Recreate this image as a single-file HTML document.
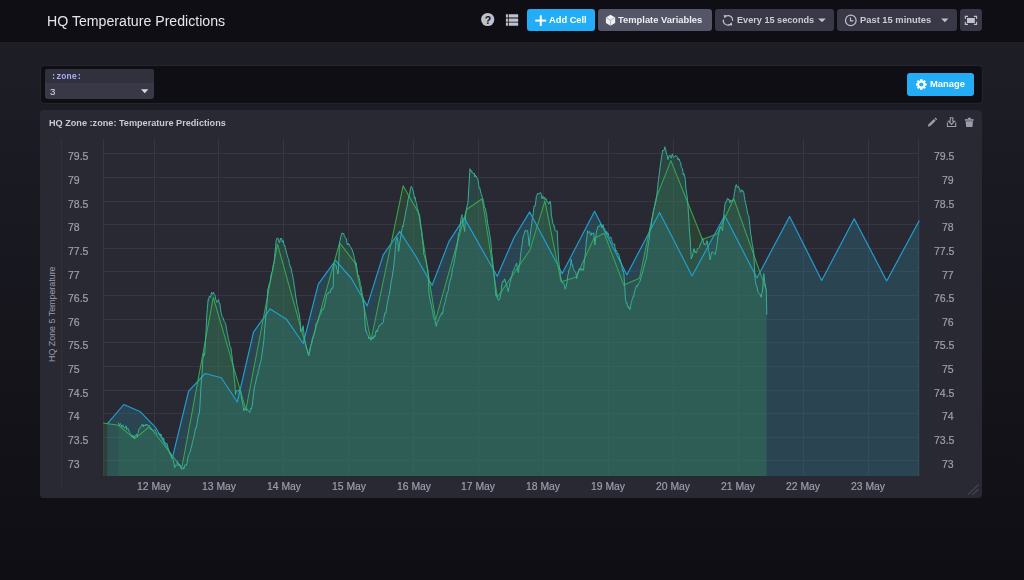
<!DOCTYPE html>
<html><head><meta charset="utf-8">
<style>
*{box-sizing:border-box;margin:0;padding:0}
html,body{width:1024px;height:580px;overflow:hidden}
body{font-family:"Liberation Sans",sans-serif;background:linear-gradient(to bottom,#1f1f27 0%,#0f0e15 100%);position:relative;color:#bec2cc}
.hdr{position:absolute;left:0;top:0;width:1024px;height:42.4px;background:#0f0e15}
.box{position:absolute}
.t{position:absolute;line-height:1;white-space:nowrap;will-change:transform}
.b{font-weight:bold}
.mono{font-family:"Liberation Mono",monospace;font-weight:bold}
.ax{color:#9b9fad;-webkit-text-stroke:0.2px #9b9fad}
.ylabel{position:absolute;left:47.6px;top:362px;transform-origin:0 0;transform:rotate(-90deg);font-size:8.9px;line-height:1;color:#999dab;white-space:nowrap}
svg{position:absolute;left:0;top:0;overflow:visible}
</style></head><body>
<div class="hdr"></div>
<!-- buttons -->
<div class="box" style="left:527px;top:9px;width:68px;height:22px;border-radius:3px;background:#22adf6"></div>
<div class="box" style="left:598px;top:9px;width:113.5px;height:22px;border-radius:3px;background:#545667"></div>
<div class="box" style="left:714.5px;top:9px;width:119.5px;height:22px;border-radius:3px;background:#383846"></div>
<div class="box" style="left:837px;top:9px;width:119.5px;height:22px;border-radius:3px;background:#383846"></div>
<div class="box" style="left:960px;top:9px;width:22px;height:22px;border-radius:3px;background:#383846"></div>
<!-- template var bar -->
<div class="box" style="left:41px;top:66px;width:941px;height:37px;background:#0f0e15;border-radius:4px;box-shadow:0 0 0 1px #24242c"></div>
<div class="box" style="left:45px;top:69.3px;width:109px;height:30px;border-radius:3px;background:#383846;overflow:hidden"><div style="height:13.5px;background:#31313d"></div></div>
<div class="box" style="left:907px;top:73px;width:66.5px;height:23px;border-radius:3px;background:#22adf6"></div>
<!-- panel -->
<div class="box" style="left:40px;top:110px;width:942px;height:388px;background:#292933;border-radius:4px"></div>
<div class="box" style="left:61px;top:139px;width:1px;height:351px;background:#31313b"></div>
<svg class="chart" width="1024" height="580" viewBox="0 0 1024 580">
<g class="grid" stroke="#373743" stroke-width="1"><line x1="103" x2="919" y1="153.5" y2="153.5"/><line x1="103" x2="919" y1="177.5" y2="177.5"/><line x1="103" x2="919" y1="201.5" y2="201.5"/><line x1="103" x2="919" y1="224.5" y2="224.5"/><line x1="103" x2="919" y1="248.5" y2="248.5"/><line x1="103" x2="919" y1="271.5" y2="271.5"/><line x1="103" x2="919" y1="295.5" y2="295.5"/><line x1="103" x2="919" y1="319.5" y2="319.5"/><line x1="103" x2="919" y1="342.5" y2="342.5"/><line x1="103" x2="919" y1="366.5" y2="366.5"/><line x1="103" x2="919" y1="390.5" y2="390.5"/><line x1="103" x2="919" y1="413.5" y2="413.5"/><line x1="103" x2="919" y1="437.5" y2="437.5"/><line x1="103" x2="919" y1="460.5" y2="460.5"/><line y1="139" y2="476" x1="154.5" x2="154.5"/><line y1="139" y2="476" x1="218.5" x2="218.5"/><line y1="139" y2="476" x1="283.5" x2="283.5"/><line y1="139" y2="476" x1="348.5" x2="348.5"/><line y1="139" y2="476" x1="413.5" x2="413.5"/><line y1="139" y2="476" x1="478.5" x2="478.5"/><line y1="139" y2="476" x1="543.5" x2="543.5"/><line y1="139" y2="476" x1="608.5" x2="608.5"/><line y1="139" y2="476" x1="673.5" x2="673.5"/><line y1="139" y2="476" x1="738.5" x2="738.5"/><line y1="139" y2="476" x1="803.5" x2="803.5"/><line y1="139" y2="476" x1="868.5" x2="868.5"/><line y1="139" y2="476" x1="103.5" x2="103.5"/><line y1="139" y2="476" x1="918.5" x2="918.5"/></g>
<path d="M103.3,423.1 L118.4,425.2 L134.6,438.8 L149.5,426.5 L181.8,467.9 L213.3,297.3 L245.9,409.7 L277.5,244.2 L308.3,354.7 L339.6,242.9 L355.1,262.9 L370.9,340.5 L403.1,185.8 L418.6,212.9 L435.6,319.8 L466.6,209.5 L482.2,198.8 L497.4,297.3 L530.0,249.9 L544.9,200.8 L561.1,281.8 L576.4,277.1 L582.4,263.3 L593.8,238.5 L604.2,233.3 L623.8,285.1 L639.5,278.3 L656.3,197.6 L670.9,160.6 L702.5,239.5 L717.5,233.8 L733.8,198.8 L766.3,290.0 L766.3,476 L103.3,476 Z" fill="rgb(71,199,63)" fill-opacity="0.145"/>
<path d="M107.2,423.8 L123.8,404.5 L140.4,411.8 L155.5,427.3 L172.5,457.3 L188.6,391.1 L205.2,373.5 L221.3,377.8 L237.3,402.0 L253.5,332.1 L270.1,308.9 L286.6,319.3 L303.2,343.5 L318.3,284.1 L335.5,260.4 L351.1,278.0 L367.2,305.9 L383.1,255.2 L399.7,231.4 L415.2,255.2 L432.1,285.3 L449.0,241.4 L464.3,218.1 L497.2,276.3 L514.2,237.3 L529.7,211.9 L562.2,273.5 L594.6,211.3 L626.9,274.7 L659.6,212.5 L692.1,275.9 L724.8,215.6 L756.9,278.0 L789.6,216.5 L821.7,280.5 L854.2,218.7 L886.7,280.9 L919.3,220.5 L919.3,476 L107.2,476 Z" fill="rgb(48,128,149)" fill-opacity="0.313"/>
<path d="M118.4,422.6 L118.9,424.1 L119.4,425.6 L119.9,424.6 L120.4,423.5 L120.9,424.7 L121.4,425.9 L121.9,427.2 L122.4,425.3 L122.9,424.8 L123.5,426.6 L124.0,426.9 L124.6,428.1 L125.1,427.8 L125.7,426.5 L126.2,425.8 L126.7,429.7 L127.3,428.7 L127.8,428.5 L128.3,428.7 L128.9,430.8 L129.4,432.3 L129.9,432.6 L130.4,433.4 L131.0,434.5 L131.5,435.7 L132.0,437.1 L132.5,437.0 L133.0,435.1 L133.6,437.7 L134.1,436.6 L134.6,438.1 L135.1,435.8 L135.7,436.0 L136.2,434.5 L136.7,434.3 L137.3,437.0 L137.8,433.5 L138.3,432.6 L138.9,429.2 L139.4,428.4 L139.9,428.5 L140.5,427.0 L141.0,426.3 L141.5,426.0 L142.0,424.6 L142.5,425.7 L143.0,424.5 L143.5,426.9 L144.0,425.0 L144.5,425.6 L145.0,424.9 L145.5,425.7 L146.0,424.1 L146.5,425.2 L147.0,424.3 L147.5,425.4 L148.0,425.7 L148.5,425.7 L149.1,425.0 L149.6,426.9 L150.1,427.6 L150.6,429.5 L151.1,428.3 L151.7,429.3 L152.2,430.0 L152.7,430.4 L153.2,430.5 L153.7,430.7 L154.3,430.0 L154.8,429.5 L155.3,430.2 L155.8,431.7 L156.3,433.4 L156.9,433.5 L157.4,433.8 L157.9,433.8 L158.4,433.9 L158.9,433.5 L159.5,434.2 L160.0,435.7 L160.5,434.1 L161.0,433.9 L161.6,437.3 L162.1,437.1 L162.6,438.5 L163.2,439.4 L163.7,438.1 L164.2,442.1 L164.8,443.3 L165.3,442.6 L165.8,443.5 L166.4,443.7 L166.9,443.2 L167.4,445.0 L167.9,447.1 L168.5,449.6 L169.0,450.9 L169.5,451.6 L170.0,454.2 L170.5,453.7 L171.1,456.1 L171.6,458.3 L172.1,458.4 L172.6,457.9 L173.1,459.7 L173.7,462.6 L174.2,464.9 L174.7,467.9 L175.3,465.2 L175.8,465.1 L176.4,465.5 L176.9,464.6 L177.5,461.6 L178.0,463.8 L178.6,465.9 L179.1,466.0 L179.7,464.4 L180.2,464.8 L180.8,466.0 L181.3,469.4 L181.9,468.9 L182.4,468.6 L183.0,469.3 L183.5,467.4 L184.1,468.5 L184.6,465.7 L185.2,464.6 L185.7,465.2 L186.3,465.8 L186.9,463.6 L187.4,461.3 L188.0,457.0 L188.5,455.6 L189.1,454.1 L189.6,452.5 L190.2,452.0 L190.7,449.2 L191.2,448.1 L191.8,445.5 L192.3,442.7 L192.8,440.8 L193.3,439.0 L193.8,437.5 L194.4,434.0 L194.9,431.7 L195.4,428.2 L196.0,428.6 L196.5,427.0 L197.1,423.1 L197.6,419.8 L198.2,416.2 L198.7,415.0 L199.3,413.0 L199.8,407.8 L200.3,398.9 L200.8,389.8 L201.4,379.8 L201.9,375.7 L202.4,368.0 L202.9,358.4 L203.4,357.1 L203.9,353.0 L204.4,355.4 L204.9,352.0 L205.5,340.3 L206.2,328.4 L206.8,315.1 L207.4,308.6 L208.1,299.8 L208.6,300.4 L209.1,296.8 L209.7,296.1 L210.2,297.3 L210.7,297.4 L211.2,294.2 L211.7,292.4 L212.3,294.1 L212.8,294.3 L213.3,292.1 L213.8,293.1 L214.3,294.2 L214.9,294.9 L215.4,296.6 L215.9,300.1 L216.4,300.5 L216.9,302.4 L217.5,300.8 L218.0,300.4 L218.5,299.5 L219.0,302.1 L219.5,303.0 L220.0,304.2 L220.5,308.7 L221.0,312.4 L221.6,314.2 L222.1,316.6 L222.7,317.4 L223.2,317.8 L223.8,320.1 L224.3,321.5 L224.9,322.4 L225.5,323.7 L226.0,325.8 L226.6,329.6 L227.1,332.5 L227.7,334.3 L228.2,338.5 L228.8,340.0 L229.3,342.8 L229.8,346.1 L230.4,346.8 L230.9,347.4 L231.4,352.3 L231.9,355.6 L232.5,361.5 L233.1,365.1 L233.6,369.7 L234.2,378.3 L234.9,383.7 L235.5,394.4 L236.0,392.5 L236.5,391.0 L237.1,390.2 L237.6,390.6 L238.1,390.2 L238.7,391.4 L239.4,389.4 L240.0,390.5 L240.6,391.2 L241.1,395.6 L241.7,399.6 L242.2,401.2 L242.8,404.5 L243.3,407.4 L243.9,410.9 L244.4,409.0 L245.0,408.2 L245.6,407.8 L246.1,410.3 L246.6,410.3 L247.2,408.9 L247.7,409.7 L248.2,410.5 L248.8,411.4 L249.3,411.9 L249.8,412.5 L250.3,409.7 L250.8,408.3 L251.3,409.2 L251.8,407.3 L252.3,404.9 L252.8,400.2 L253.3,396.1 L253.8,392.3 L254.3,387.1 L254.8,385.9 L255.3,384.2 L255.8,381.4 L256.3,379.1 L256.8,376.9 L257.3,374.8 L257.8,375.0 L258.3,370.3 L258.8,369.7 L259.3,367.2 L259.8,364.6 L260.4,362.8 L260.9,361.6 L261.4,358.4 L262.0,353.6 L262.7,348.6 L263.3,344.6 L263.8,340.6 L264.3,334.4 L264.8,327.9 L265.3,322.2 L265.8,316.9 L266.3,311.3 L266.8,305.7 L267.3,297.6 L267.8,288.7 L268.4,288.4 L268.9,284.8 L269.5,283.8 L270.0,282.2 L270.6,277.8 L271.1,275.0 L271.6,272.6 L272.2,271.9 L272.7,270.3 L273.2,265.1 L273.8,264.0 L274.3,260.2 L274.9,253.4 L275.6,246.6 L276.2,240.3 L276.8,238.4 L277.3,238.4 L277.9,237.9 L278.4,239.5 L278.9,241.6 L279.5,242.8 L280.0,240.2 L280.6,238.0 L281.1,238.8 L281.7,238.7 L282.2,242.1 L282.8,241.9 L283.3,240.5 L283.8,243.7 L284.3,245.7 L284.8,245.3 L285.3,247.6 L285.8,249.8 L286.3,251.9 L286.8,253.9 L287.3,255.2 L287.8,257.4 L288.3,258.4 L288.8,259.6 L289.3,263.7 L289.8,265.0 L290.3,267.1 L290.9,267.0 L291.4,270.0 L291.9,273.5 L292.5,273.8 L293.0,278.0 L293.6,280.7 L294.1,285.0 L294.7,288.2 L295.2,292.2 L295.8,297.0 L296.3,299.4 L296.9,304.7 L297.4,305.5 L297.9,307.4 L298.4,311.7 L299.0,313.0 L299.5,316.0 L300.0,320.3 L300.5,323.9 L300.5,331.3 L301.0,331.5 L301.5,332.2 L302.1,330.8 L302.6,328.0 L303.1,325.7 L303.8,332.2 L304.4,337.8 L304.9,340.3 L305.4,342.6 L305.9,344.7 L306.4,348.1 L306.9,349.0 L307.4,349.3 L307.9,353.3 L308.4,353.7 L308.9,355.8 L309.4,353.3 L310.0,350.3 L310.5,346.6 L311.1,344.3 L311.6,344.2 L312.2,339.3 L312.8,336.9 L313.5,336.1 L314.1,333.9 L314.6,332.0 L315.2,330.2 L315.7,325.2 L316.2,323.4 L316.8,322.6 L317.3,321.4 L317.8,321.5 L318.3,319.9 L318.8,317.8 L319.3,316.7 L319.8,315.3 L320.3,314.6 L320.8,314.2 L321.3,312.2 L321.8,310.2 L322.3,308.8 L322.8,309.7 L323.3,309.6 L323.8,308.5 L324.4,306.0 L325.0,303.5 L325.5,300.2 L326.1,298.3 L326.7,294.2 L327.2,293.9 L327.7,292.9 L328.2,293.7 L328.7,292.2 L329.2,291.8 L329.7,291.9 L330.2,292.6 L330.7,290.1 L331.2,288.7 L331.7,289.7 L332.2,287.6 L332.7,288.2 L333.2,286.9 L333.8,265.2 L334.4,263.4 L335.1,265.5 L335.7,265.0 L336.2,265.4 L336.7,269.5 L337.3,270.1 L337.8,274.0 L338.3,272.7 L339.0,256.1 L339.6,241.1 L340.1,240.8 L340.6,237.7 L341.1,235.8 L341.6,234.0 L342.1,232.9 L342.7,234.0 L343.2,233.9 L343.7,233.4 L344.3,235.8 L344.8,236.7 L345.3,238.0 L345.8,238.5 L346.4,238.7 L346.9,242.7 L347.4,244.6 L348.0,243.2 L348.5,244.8 L349.1,244.0 L349.6,245.6 L350.2,246.6 L350.7,247.4 L351.3,247.8 L351.8,249.6 L352.4,249.9 L352.9,252.1 L353.5,253.9 L354.0,256.1 L354.6,258.6 L355.1,261.0 L355.6,264.7 L356.1,262.9 L356.7,267.0 L357.2,269.3 L357.7,274.3 L358.2,276.1 L358.7,275.4 L359.3,279.0 L359.8,280.7 L360.3,284.5 L360.9,285.7 L361.4,289.2 L362.0,292.3 L362.5,295.3 L363.1,297.8 L363.8,303.3 L364.4,312.4 L365.0,322.7 L365.7,331.1 L366.2,330.9 L366.8,332.8 L367.3,334.6 L367.8,335.1 L368.4,336.2 L368.9,338.8 L369.4,337.6 L369.9,338.4 L370.4,337.8 L370.9,339.6 L371.5,338.9 L372.0,337.8 L372.6,337.1 L373.1,339.0 L373.7,336.9 L374.2,335.6 L374.8,337.1 L375.3,334.5 L375.9,331.2 L376.4,331.8 L377.0,329.9 L377.5,331.5 L378.1,328.3 L378.6,327.3 L379.2,325.4 L379.7,326.1 L380.3,324.6 L380.8,324.7 L381.4,323.9 L381.9,322.9 L382.5,323.7 L383.1,322.3 L383.6,319.5 L384.2,316.1 L384.7,313.4 L385.3,312.6 L385.8,313.4 L386.4,309.2 L386.9,305.5 L387.4,302.6 L388.0,299.5 L388.5,296.9 L389.0,295.1 L389.5,294.1 L390.0,290.1 L390.6,286.1 L391.1,281.5 L391.6,279.9 L392.2,276.7 L392.9,272.0 L393.5,268.3 L394.0,263.4 L394.5,258.9 L395.0,253.0 L395.5,246.6 L396.0,239.8 L396.5,239.0 L397.0,237.4 L397.5,238.4 L398.0,243.6 L398.5,251.5 L399.0,249.2 L399.5,244.1 L400.0,241.6 L400.5,238.0 L401.0,235.3 L401.5,232.2 L402.0,228.4 L402.5,225.9 L403.0,226.9 L403.5,223.9 L404.0,221.1 L404.5,218.9 L405.0,216.1 L405.5,214.2 L406.0,210.6 L406.5,207.9 L407.0,206.8 L407.5,203.5 L408.0,199.7 L408.5,198.1 L409.0,195.7 L409.5,194.7 L410.0,191.3 L410.5,188.3 L411.0,186.5 L411.5,186.5 L412.0,187.4 L412.5,189.2 L413.1,190.9 L413.6,193.0 L414.1,195.7 L414.6,198.3 L415.1,197.1 L415.7,201.2 L416.2,202.4 L416.7,203.7 L417.2,208.6 L417.8,208.9 L418.3,212.7 L418.8,214.4 L419.4,214.2 L419.9,217.2 L420.5,222.9 L421.0,227.3 L421.6,229.8 L422.1,236.2 L422.7,242.0 L423.2,246.4 L423.8,254.5 L424.3,255.4 L424.8,256.9 L425.3,258.9 L425.8,260.5 L426.3,262.4 L426.8,265.4 L427.3,268.1 L427.8,269.5 L428.5,282.7 L429.1,294.3 L429.6,298.2 L430.1,299.7 L430.7,302.8 L431.2,304.2 L431.7,306.6 L432.2,309.8 L432.7,310.8 L433.3,316.8 L433.8,317.6 L434.3,319.4 L434.9,320.2 L435.6,324.1 L436.2,326.3 L436.7,324.5 L437.2,321.5 L437.7,320.8 L438.2,321.2 L438.7,319.6 L439.2,317.7 L439.7,316.5 L440.2,316.0 L440.7,316.1 L441.2,313.9 L441.8,312.7 L442.3,314.2 L442.9,312.4 L443.4,307.6 L443.9,306.2 L444.5,304.3 L445.0,302.2 L445.5,301.4 L446.0,298.3 L446.5,295.9 L447.0,293.6 L447.5,291.9 L448.0,291.4 L448.5,289.4 L449.0,285.0 L449.5,283.2 L450.0,280.8 L450.5,280.1 L451.0,277.6 L451.5,275.9 L452.0,272.7 L452.5,268.0 L453.0,267.4 L453.5,265.4 L454.0,263.4 L454.5,259.2 L455.0,257.7 L455.5,254.1 L456.0,250.9 L456.5,249.0 L457.0,246.4 L457.5,242.2 L458.0,237.8 L458.5,233.5 L459.0,232.1 L459.5,231.6 L460.0,228.1 L460.5,221.8 L461.0,218.7 L461.5,216.5 L462.0,214.7 L462.6,221.3 L463.1,223.7 L463.6,226.4 L464.1,228.1 L464.6,231.5 L465.2,221.9 L465.9,211.8 L466.4,209.7 L466.9,206.6 L467.4,204.5 L467.9,203.0 L468.4,195.0 L468.9,186.8 L469.4,178.1 L469.9,168.7 L470.5,169.9 L471.2,171.4 L471.7,170.6 L472.2,173.2 L472.7,172.7 L473.2,173.7 L473.8,173.7 L474.3,173.0 L474.8,176.8 L475.3,175.0 L475.8,177.0 L476.3,176.5 L477.0,178.3 L477.6,178.6 L478.2,180.8 L478.7,184.5 L479.2,188.3 L479.8,187.9 L480.3,190.1 L480.9,193.3 L481.5,194.1 L482.2,197.3 L482.8,198.2 L483.3,201.4 L483.9,203.7 L484.4,206.8 L484.9,208.3 L485.5,208.6 L486.0,212.1 L486.6,214.0 L487.1,218.8 L487.7,223.5 L488.2,226.3 L488.8,228.2 L489.3,232.9 L489.9,235.6 L490.5,239.2 L491.1,244.8 L491.6,252.2 L492.2,256.4 L492.8,261.8 L493.3,267.0 L493.8,271.0 L494.4,277.4 L494.9,284.3 L495.4,290.2 L495.9,295.6 L496.5,293.9 L497.0,297.3 L497.6,298.3 L498.1,299.4 L498.7,300.4 L499.2,299.2 L499.8,299.0 L500.4,295.7 L501.0,293.3 L501.5,286.2 L502.1,282.6 L502.7,281.1 L503.2,281.3 L503.8,281.6 L504.4,279.0 L505.0,279.2 L505.5,281.9 L506.1,283.6 L506.6,283.9 L507.2,287.9 L507.7,288.9 L508.3,291.7 L508.9,287.4 L509.4,287.0 L510.0,282.5 L510.5,282.0 L511.1,277.1 L511.6,277.3 L512.2,273.9 L512.8,270.9 L513.3,270.5 L513.9,270.1 L514.4,267.6 L515.0,266.4 L515.5,266.0 L516.1,264.5 L516.7,263.2 L517.2,266.9 L517.8,270.4 L518.4,272.8 L518.9,269.3 L519.4,263.4 L520.0,262.0 L520.5,256.7 L521.0,251.5 L521.5,247.6 L522.1,244.6 L522.6,240.5 L523.2,236.3 L523.8,234.6 L524.4,233.9 L524.9,230.7 L525.5,230.1 L526.0,231.3 L526.6,231.0 L527.1,230.7 L527.7,230.6 L528.2,235.7 L528.8,242.6 L529.3,246.1 L529.8,240.0 L530.3,234.9 L530.8,229.9 L531.3,226.7 L531.8,224.0 L532.3,218.6 L532.9,216.3 L533.4,212.4 L533.9,207.1 L534.4,205.7 L534.9,206.4 L535.4,204.1 L535.9,200.7 L536.4,196.3 L536.9,195.4 L537.4,193.9 L537.9,193.1 L538.4,194.1 L538.9,193.9 L539.4,193.7 L539.9,192.7 L540.5,192.4 L541.0,193.7 L541.5,194.3 L542.0,198.6 L542.5,196.8 L543.0,196.3 L543.5,198.4 L544.1,198.3 L544.6,197.2 L545.1,199.9 L545.6,199.5 L546.1,198.6 L546.6,200.5 L547.1,201.7 L547.6,201.6 L548.2,203.1 L548.7,204.1 L549.2,203.0 L549.7,201.7 L550.2,201.2 L550.7,203.9 L551.4,215.2 L551.9,217.9 L552.4,220.8 L552.9,223.7 L553.5,224.2 L554.0,226.9 L554.5,226.5 L555.0,230.3 L555.5,231.0 L556.1,231.1 L556.7,231.1 L557.2,230.7 L557.7,241.6 L558.3,253.1 L558.8,261.6 L559.4,266.9 L560.0,270.4 L560.5,275.6 L561.1,279.1 L561.6,281.1 L562.1,281.7 L562.6,283.1 L563.1,283.1 L563.7,283.0 L564.2,284.5 L564.7,287.1 L565.2,289.2 L565.7,288.4 L566.2,286.2 L566.8,283.5 L567.3,280.3 L567.8,275.2 L568.4,273.6 L568.9,269.8 L569.5,269.5 L570.0,267.4 L570.6,265.0 L571.2,259.2 L571.7,263.0 L572.2,265.4 L572.8,265.1 L573.3,268.5 L573.8,269.7 L574.3,270.8 L574.9,271.3 L575.5,271.8 L576.0,273.5 L576.6,278.7 L577.1,275.7 L577.7,273.8 L578.2,271.5 L578.8,269.9 L579.3,268.6 L579.8,268.2 L580.3,270.0 L580.9,269.4 L581.4,270.4 L581.9,268.5 L582.5,270.2 L583.0,269.7 L583.5,270.3 L584.0,265.0 L584.5,259.3 L585.0,256.6 L585.5,250.8 L586.0,245.8 L586.5,240.0 L587.1,236.0 L587.6,230.7 L588.1,231.9 L588.6,232.7 L589.2,232.1 L589.7,231.5 L590.2,233.6 L590.7,235.3 L591.2,235.1 L591.7,232.8 L592.2,233.7 L592.8,233.5 L593.3,233.1 L593.8,232.9 L594.3,238.4 L594.8,244.9 L595.3,242.2 L595.8,237.3 L596.4,232.2 L596.9,229.5 L597.4,229.3 L597.9,226.4 L598.5,226.1 L599.0,226.9 L599.5,225.7 L600.0,225.1 L600.5,223.8 L601.0,225.9 L601.5,227.7 L602.1,226.3 L602.6,225.3 L603.1,224.6 L603.6,227.6 L604.1,228.4 L604.7,228.4 L605.2,231.3 L605.7,232.5 L606.2,233.4 L606.7,231.4 L607.2,232.9 L607.8,234.6 L608.3,233.6 L608.8,236.0 L609.3,237.8 L609.8,238.4 L610.4,237.1 L610.9,237.0 L611.4,239.2 L611.9,241.1 L612.4,242.8 L613.0,244.2 L613.5,244.0 L614.0,244.5 L614.5,243.8 L615.0,247.3 L615.6,251.0 L616.1,250.0 L616.6,250.5 L617.1,252.7 L617.6,254.0 L618.2,253.3 L618.7,254.6 L619.2,255.5 L619.7,260.0 L620.2,259.4 L620.8,261.7 L621.3,264.5 L621.8,266.2 L622.3,268.5 L622.8,271.2 L623.3,270.7 L623.8,273.2 L624.3,280.0 L624.8,287.5 L625.4,298.1 L625.9,301.8 L626.4,303.6 L626.9,302.7 L627.4,305.6 L628.0,307.0 L628.5,306.0 L629.0,308.8 L629.5,308.0 L630.0,309.5 L630.5,306.8 L631.0,303.6 L631.6,301.5 L632.1,299.7 L632.6,298.7 L633.2,296.5 L633.7,297.0 L634.2,293.0 L634.7,291.0 L635.2,289.3 L635.7,288.0 L636.2,286.2 L636.8,285.3 L637.3,286.4 L637.8,285.2 L638.3,283.9 L638.8,283.1 L639.3,282.7 L639.9,281.3 L640.4,280.1 L640.9,277.4 L641.5,275.9 L642.0,274.0 L642.5,273.3 L643.0,270.6 L643.5,268.8 L644.0,267.0 L644.5,265.0 L645.1,262.9 L645.6,260.6 L646.1,260.4 L646.6,257.1 L647.1,252.6 L647.6,250.0 L648.1,245.5 L648.7,241.7 L649.2,239.4 L649.7,234.4 L650.2,228.7 L650.7,228.3 L651.2,226.8 L651.8,221.0 L652.3,217.6 L652.8,215.8 L653.3,211.3 L653.8,209.5 L654.3,207.0 L654.9,205.7 L655.4,201.9 L655.9,202.2 L656.4,197.8 L656.9,194.1 L657.5,189.4 L658.0,183.1 L658.5,180.4 L659.0,175.5 L659.5,172.5 L660.0,167.8 L660.5,164.1 L661.1,160.2 L661.6,157.2 L662.1,153.5 L662.6,150.6 L663.2,150.0 L663.7,150.8 L664.3,149.3 L664.8,146.8 L665.3,148.5 L665.8,150.0 L666.3,153.0 L666.8,154.1 L667.3,155.9 L667.8,159.6 L668.3,158.0 L668.8,156.9 L669.3,155.5 L669.9,154.9 L670.4,157.1 L670.9,157.0 L671.5,158.2 L672.0,154.4 L672.5,154.0 L673.0,156.6 L673.5,157.0 L674.0,157.0 L674.5,157.0 L675.1,156.1 L675.6,155.7 L676.1,155.6 L676.6,156.5 L677.1,156.6 L677.6,157.7 L678.1,160.0 L678.7,158.5 L679.2,159.0 L679.7,161.2 L680.2,161.7 L680.7,162.6 L681.2,166.8 L681.8,167.7 L682.3,168.2 L682.8,171.2 L683.3,175.1 L683.9,173.6 L684.4,174.7 L684.9,177.2 L685.4,181.1 L685.9,188.5 L686.5,192.2 L687.0,195.5 L687.5,200.5 L688.0,206.8 L688.5,214.1 L689.0,222.3 L689.5,232.6 L690.0,235.9 L690.6,247.4 L691.3,259.0 L691.8,257.1 L692.3,256.6 L692.8,253.7 L693.3,251.2 L693.8,248.9 L694.3,248.9 L694.8,252.3 L695.3,251.0 L695.8,252.4 L696.3,253.1 L696.8,251.4 L697.4,248.5 L697.9,248.6 L698.4,248.4 L698.9,247.6 L699.5,247.2 L700.0,245.2 L700.5,243.3 L701.0,243.1 L701.5,242.8 L702.0,240.3 L702.5,238.1 L703.0,239.2 L703.5,242.5 L704.0,244.3 L704.5,243.5 L705.0,244.9 L705.5,244.9 L706.0,244.8 L706.5,241.9 L707.0,240.7 L707.5,241.4 L708.0,247.2 L708.5,250.8 L709.0,251.7 L709.5,256.4 L710.0,259.8 L710.5,257.9 L711.0,255.2 L711.5,253.2 L712.0,251.7 L712.5,251.9 L713.0,252.4 L713.5,253.0 L714.0,253.4 L714.5,253.3 L715.0,254.5 L715.5,253.2 L716.0,250.3 L716.5,248.6 L717.0,244.2 L717.5,240.4 L718.0,235.9 L718.5,234.9 L719.0,230.6 L719.5,231.0 L720.0,227.2 L720.5,227.9 L721.0,227.0 L721.5,227.9 L722.0,228.1 L722.5,230.8 L723.0,225.5 L723.5,218.9 L724.0,212.5 L724.5,209.0 L725.0,204.1 L725.5,202.2 L726.0,202.6 L726.5,201.1 L727.0,200.1 L727.5,198.2 L728.0,198.7 L728.5,199.5 L729.0,199.0 L729.5,201.7 L730.0,202.9 L730.5,200.0 L731.1,200.6 L731.6,201.5 L732.2,200.3 L732.7,200.6 L733.3,198.5 L733.8,197.6 L734.3,193.6 L734.8,191.0 L735.3,187.5 L735.8,185.6 L736.3,184.6 L736.8,186.0 L737.4,187.5 L737.9,187.3 L738.4,186.3 L738.9,187.9 L739.5,188.2 L740.0,190.7 L740.5,192.2 L741.1,191.9 L741.6,189.9 L742.2,190.1 L742.7,191.4 L743.3,191.2 L743.8,192.8 L744.3,196.4 L744.8,199.7 L745.3,202.2 L745.8,203.8 L746.3,206.3 L746.8,208.5 L747.3,211.8 L747.8,214.2 L748.3,215.3 L748.8,216.0 L749.3,220.6 L749.8,225.3 L750.3,230.4 L750.8,234.6 L751.3,236.4 L751.8,241.2 L752.3,244.2 L752.8,246.2 L753.3,250.0 L753.8,253.0 L754.4,266.4 L755.0,278.2 L755.5,281.5 L756.0,284.4 L756.5,286.1 L757.0,286.3 L757.5,289.9 L758.0,291.8 L758.6,292.6 L759.1,293.8 L759.7,294.1 L760.2,294.6 L760.8,296.7 L761.3,297.2 L761.8,293.1 L762.3,292.1 L762.8,286.0 L763.3,280.4 L763.8,273.5 L764.3,278.1 L764.8,282.7 L765.3,285.0 L765.8,288.6 L766.3,289.9 L766.8,314.7 L766.8,476 L118.4,476 Z" fill="rgb(47,107,93)" fill-opacity="0.445"/>
<g fill="none" stroke-width="1.15" stroke-linejoin="round">
<path d="M107.2,423.8 L123.8,404.5 L140.4,411.8 L155.5,427.3 L172.5,457.3 L188.6,391.1 L205.2,373.5 L221.3,377.8 L237.3,402.0 L253.5,332.1 L270.1,308.9 L286.6,319.3 L303.2,343.5 L318.3,284.1 L335.5,260.4 L351.1,278.0 L367.2,305.9 L383.1,255.2 L399.7,231.4 L415.2,255.2 L432.1,285.3 L449.0,241.4 L464.3,218.1 L497.2,276.3 L514.2,237.3 L529.7,211.9 L562.2,273.5 L594.6,211.3 L626.9,274.7 L659.6,212.5 L692.1,275.9 L724.8,215.6 L756.9,278.0 L789.6,216.5 L821.7,280.5 L854.2,218.7 L886.7,280.9 L919.3,220.5" stroke="#20a0d2"/>
<path d="M103.3,423.1 L118.4,425.2 L134.6,438.8 L149.5,426.5 L181.8,467.9 L213.3,297.3 L245.9,409.7 L277.5,244.2 L308.3,354.7 L339.6,242.9 L355.1,262.9 L370.9,340.5 L403.1,185.8 L418.6,212.9 L435.6,319.8 L466.6,209.5 L482.2,198.8 L497.4,297.3 L530.0,249.9 L544.9,200.8 L561.1,281.8 L576.4,277.1 L582.4,263.3 L593.8,238.5 L604.2,233.3 L623.8,285.1 L639.5,278.3 L656.3,197.6 L670.9,160.6 L702.5,239.5 L717.5,233.8 L733.8,198.8 L766.3,290.0" stroke="#3aa64a" stroke-width="1.05"/>
<path d="M118.4,422.6 L118.9,424.1 L119.4,425.6 L119.9,424.6 L120.4,423.5 L120.9,424.7 L121.4,425.9 L121.9,427.2 L122.4,425.3 L122.9,424.8 L123.5,426.6 L124.0,426.9 L124.6,428.1 L125.1,427.8 L125.7,426.5 L126.2,425.8 L126.7,429.7 L127.3,428.7 L127.8,428.5 L128.3,428.7 L128.9,430.8 L129.4,432.3 L129.9,432.6 L130.4,433.4 L131.0,434.5 L131.5,435.7 L132.0,437.1 L132.5,437.0 L133.0,435.1 L133.6,437.7 L134.1,436.6 L134.6,438.1 L135.1,435.8 L135.7,436.0 L136.2,434.5 L136.7,434.3 L137.3,437.0 L137.8,433.5 L138.3,432.6 L138.9,429.2 L139.4,428.4 L139.9,428.5 L140.5,427.0 L141.0,426.3 L141.5,426.0 L142.0,424.6 L142.5,425.7 L143.0,424.5 L143.5,426.9 L144.0,425.0 L144.5,425.6 L145.0,424.9 L145.5,425.7 L146.0,424.1 L146.5,425.2 L147.0,424.3 L147.5,425.4 L148.0,425.7 L148.5,425.7 L149.1,425.0 L149.6,426.9 L150.1,427.6 L150.6,429.5 L151.1,428.3 L151.7,429.3 L152.2,430.0 L152.7,430.4 L153.2,430.5 L153.7,430.7 L154.3,430.0 L154.8,429.5 L155.3,430.2 L155.8,431.7 L156.3,433.4 L156.9,433.5 L157.4,433.8 L157.9,433.8 L158.4,433.9 L158.9,433.5 L159.5,434.2 L160.0,435.7 L160.5,434.1 L161.0,433.9 L161.6,437.3 L162.1,437.1 L162.6,438.5 L163.2,439.4 L163.7,438.1 L164.2,442.1 L164.8,443.3 L165.3,442.6 L165.8,443.5 L166.4,443.7 L166.9,443.2 L167.4,445.0 L167.9,447.1 L168.5,449.6 L169.0,450.9 L169.5,451.6 L170.0,454.2 L170.5,453.7 L171.1,456.1 L171.6,458.3 L172.1,458.4 L172.6,457.9 L173.1,459.7 L173.7,462.6 L174.2,464.9 L174.7,467.9 L175.3,465.2 L175.8,465.1 L176.4,465.5 L176.9,464.6 L177.5,461.6 L178.0,463.8 L178.6,465.9 L179.1,466.0 L179.7,464.4 L180.2,464.8 L180.8,466.0 L181.3,469.4 L181.9,468.9 L182.4,468.6 L183.0,469.3 L183.5,467.4 L184.1,468.5 L184.6,465.7 L185.2,464.6 L185.7,465.2 L186.3,465.8 L186.9,463.6 L187.4,461.3 L188.0,457.0 L188.5,455.6 L189.1,454.1 L189.6,452.5 L190.2,452.0 L190.7,449.2 L191.2,448.1 L191.8,445.5 L192.3,442.7 L192.8,440.8 L193.3,439.0 L193.8,437.5 L194.4,434.0 L194.9,431.7 L195.4,428.2 L196.0,428.6 L196.5,427.0 L197.1,423.1 L197.6,419.8 L198.2,416.2 L198.7,415.0 L199.3,413.0 L199.8,407.8 L200.3,398.9 L200.8,389.8 L201.4,379.8 L201.9,375.7 L202.4,368.0 L202.9,358.4 L203.4,357.1 L203.9,353.0 L204.4,355.4 L204.9,352.0 L205.5,340.3 L206.2,328.4 L206.8,315.1 L207.4,308.6 L208.1,299.8 L208.6,300.4 L209.1,296.8 L209.7,296.1 L210.2,297.3 L210.7,297.4 L211.2,294.2 L211.7,292.4 L212.3,294.1 L212.8,294.3 L213.3,292.1 L213.8,293.1 L214.3,294.2 L214.9,294.9 L215.4,296.6 L215.9,300.1 L216.4,300.5 L216.9,302.4 L217.5,300.8 L218.0,300.4 L218.5,299.5 L219.0,302.1 L219.5,303.0 L220.0,304.2 L220.5,308.7 L221.0,312.4 L221.6,314.2 L222.1,316.6 L222.7,317.4 L223.2,317.8 L223.8,320.1 L224.3,321.5 L224.9,322.4 L225.5,323.7 L226.0,325.8 L226.6,329.6 L227.1,332.5 L227.7,334.3 L228.2,338.5 L228.8,340.0 L229.3,342.8 L229.8,346.1 L230.4,346.8 L230.9,347.4 L231.4,352.3 L231.9,355.6 L232.5,361.5 L233.1,365.1 L233.6,369.7 L234.2,378.3 L234.9,383.7 L235.5,394.4 L236.0,392.5 L236.5,391.0 L237.1,390.2 L237.6,390.6 L238.1,390.2 L238.7,391.4 L239.4,389.4 L240.0,390.5 L240.6,391.2 L241.1,395.6 L241.7,399.6 L242.2,401.2 L242.8,404.5 L243.3,407.4 L243.9,410.9 L244.4,409.0 L245.0,408.2 L245.6,407.8 L246.1,410.3 L246.6,410.3 L247.2,408.9 L247.7,409.7 L248.2,410.5 L248.8,411.4 L249.3,411.9 L249.8,412.5 L250.3,409.7 L250.8,408.3 L251.3,409.2 L251.8,407.3 L252.3,404.9 L252.8,400.2 L253.3,396.1 L253.8,392.3 L254.3,387.1 L254.8,385.9 L255.3,384.2 L255.8,381.4 L256.3,379.1 L256.8,376.9 L257.3,374.8 L257.8,375.0 L258.3,370.3 L258.8,369.7 L259.3,367.2 L259.8,364.6 L260.4,362.8 L260.9,361.6 L261.4,358.4 L262.0,353.6 L262.7,348.6 L263.3,344.6 L263.8,340.6 L264.3,334.4 L264.8,327.9 L265.3,322.2 L265.8,316.9 L266.3,311.3 L266.8,305.7 L267.3,297.6 L267.8,288.7 L268.4,288.4 L268.9,284.8 L269.5,283.8 L270.0,282.2 L270.6,277.8 L271.1,275.0 L271.6,272.6 L272.2,271.9 L272.7,270.3 L273.2,265.1 L273.8,264.0 L274.3,260.2 L274.9,253.4 L275.6,246.6 L276.2,240.3 L276.8,238.4 L277.3,238.4 L277.9,237.9 L278.4,239.5 L278.9,241.6 L279.5,242.8 L280.0,240.2 L280.6,238.0 L281.1,238.8 L281.7,238.7 L282.2,242.1 L282.8,241.9 L283.3,240.5 L283.8,243.7 L284.3,245.7 L284.8,245.3 L285.3,247.6 L285.8,249.8 L286.3,251.9 L286.8,253.9 L287.3,255.2 L287.8,257.4 L288.3,258.4 L288.8,259.6 L289.3,263.7 L289.8,265.0 L290.3,267.1 L290.9,267.0 L291.4,270.0 L291.9,273.5 L292.5,273.8 L293.0,278.0 L293.6,280.7 L294.1,285.0 L294.7,288.2 L295.2,292.2 L295.8,297.0 L296.3,299.4 L296.9,304.7 L297.4,305.5 L297.9,307.4 L298.4,311.7 L299.0,313.0 L299.5,316.0 L300.0,320.3 L300.5,323.9 L300.5,331.3 L301.0,331.5 L301.5,332.2 L302.1,330.8 L302.6,328.0 L303.1,325.7 L303.8,332.2 L304.4,337.8 L304.9,340.3 L305.4,342.6 L305.9,344.7 L306.4,348.1 L306.9,349.0 L307.4,349.3 L307.9,353.3 L308.4,353.7 L308.9,355.8 L309.4,353.3 L310.0,350.3 L310.5,346.6 L311.1,344.3 L311.6,344.2 L312.2,339.3 L312.8,336.9 L313.5,336.1 L314.1,333.9 L314.6,332.0 L315.2,330.2 L315.7,325.2 L316.2,323.4 L316.8,322.6 L317.3,321.4 L317.8,321.5 L318.3,319.9 L318.8,317.8 L319.3,316.7 L319.8,315.3 L320.3,314.6 L320.8,314.2 L321.3,312.2 L321.8,310.2 L322.3,308.8 L322.8,309.7 L323.3,309.6 L323.8,308.5 L324.4,306.0 L325.0,303.5 L325.5,300.2 L326.1,298.3 L326.7,294.2 L327.2,293.9 L327.7,292.9 L328.2,293.7 L328.7,292.2 L329.2,291.8 L329.7,291.9 L330.2,292.6 L330.7,290.1 L331.2,288.7 L331.7,289.7 L332.2,287.6 L332.7,288.2 L333.2,286.9 L333.8,265.2 L334.4,263.4 L335.1,265.5 L335.7,265.0 L336.2,265.4 L336.7,269.5 L337.3,270.1 L337.8,274.0 L338.3,272.7 L339.0,256.1 L339.6,241.1 L340.1,240.8 L340.6,237.7 L341.1,235.8 L341.6,234.0 L342.1,232.9 L342.7,234.0 L343.2,233.9 L343.7,233.4 L344.3,235.8 L344.8,236.7 L345.3,238.0 L345.8,238.5 L346.4,238.7 L346.9,242.7 L347.4,244.6 L348.0,243.2 L348.5,244.8 L349.1,244.0 L349.6,245.6 L350.2,246.6 L350.7,247.4 L351.3,247.8 L351.8,249.6 L352.4,249.9 L352.9,252.1 L353.5,253.9 L354.0,256.1 L354.6,258.6 L355.1,261.0 L355.6,264.7 L356.1,262.9 L356.7,267.0 L357.2,269.3 L357.7,274.3 L358.2,276.1 L358.7,275.4 L359.3,279.0 L359.8,280.7 L360.3,284.5 L360.9,285.7 L361.4,289.2 L362.0,292.3 L362.5,295.3 L363.1,297.8 L363.8,303.3 L364.4,312.4 L365.0,322.7 L365.7,331.1 L366.2,330.9 L366.8,332.8 L367.3,334.6 L367.8,335.1 L368.4,336.2 L368.9,338.8 L369.4,337.6 L369.9,338.4 L370.4,337.8 L370.9,339.6 L371.5,338.9 L372.0,337.8 L372.6,337.1 L373.1,339.0 L373.7,336.9 L374.2,335.6 L374.8,337.1 L375.3,334.5 L375.9,331.2 L376.4,331.8 L377.0,329.9 L377.5,331.5 L378.1,328.3 L378.6,327.3 L379.2,325.4 L379.7,326.1 L380.3,324.6 L380.8,324.7 L381.4,323.9 L381.9,322.9 L382.5,323.7 L383.1,322.3 L383.6,319.5 L384.2,316.1 L384.7,313.4 L385.3,312.6 L385.8,313.4 L386.4,309.2 L386.9,305.5 L387.4,302.6 L388.0,299.5 L388.5,296.9 L389.0,295.1 L389.5,294.1 L390.0,290.1 L390.6,286.1 L391.1,281.5 L391.6,279.9 L392.2,276.7 L392.9,272.0 L393.5,268.3 L394.0,263.4 L394.5,258.9 L395.0,253.0 L395.5,246.6 L396.0,239.8 L396.5,239.0 L397.0,237.4 L397.5,238.4 L398.0,243.6 L398.5,251.5 L399.0,249.2 L399.5,244.1 L400.0,241.6 L400.5,238.0 L401.0,235.3 L401.5,232.2 L402.0,228.4 L402.5,225.9 L403.0,226.9 L403.5,223.9 L404.0,221.1 L404.5,218.9 L405.0,216.1 L405.5,214.2 L406.0,210.6 L406.5,207.9 L407.0,206.8 L407.5,203.5 L408.0,199.7 L408.5,198.1 L409.0,195.7 L409.5,194.7 L410.0,191.3 L410.5,188.3 L411.0,186.5 L411.5,186.5 L412.0,187.4 L412.5,189.2 L413.1,190.9 L413.6,193.0 L414.1,195.7 L414.6,198.3 L415.1,197.1 L415.7,201.2 L416.2,202.4 L416.7,203.7 L417.2,208.6 L417.8,208.9 L418.3,212.7 L418.8,214.4 L419.4,214.2 L419.9,217.2 L420.5,222.9 L421.0,227.3 L421.6,229.8 L422.1,236.2 L422.7,242.0 L423.2,246.4 L423.8,254.5 L424.3,255.4 L424.8,256.9 L425.3,258.9 L425.8,260.5 L426.3,262.4 L426.8,265.4 L427.3,268.1 L427.8,269.5 L428.5,282.7 L429.1,294.3 L429.6,298.2 L430.1,299.7 L430.7,302.8 L431.2,304.2 L431.7,306.6 L432.2,309.8 L432.7,310.8 L433.3,316.8 L433.8,317.6 L434.3,319.4 L434.9,320.2 L435.6,324.1 L436.2,326.3 L436.7,324.5 L437.2,321.5 L437.7,320.8 L438.2,321.2 L438.7,319.6 L439.2,317.7 L439.7,316.5 L440.2,316.0 L440.7,316.1 L441.2,313.9 L441.8,312.7 L442.3,314.2 L442.9,312.4 L443.4,307.6 L443.9,306.2 L444.5,304.3 L445.0,302.2 L445.5,301.4 L446.0,298.3 L446.5,295.9 L447.0,293.6 L447.5,291.9 L448.0,291.4 L448.5,289.4 L449.0,285.0 L449.5,283.2 L450.0,280.8 L450.5,280.1 L451.0,277.6 L451.5,275.9 L452.0,272.7 L452.5,268.0 L453.0,267.4 L453.5,265.4 L454.0,263.4 L454.5,259.2 L455.0,257.7 L455.5,254.1 L456.0,250.9 L456.5,249.0 L457.0,246.4 L457.5,242.2 L458.0,237.8 L458.5,233.5 L459.0,232.1 L459.5,231.6 L460.0,228.1 L460.5,221.8 L461.0,218.7 L461.5,216.5 L462.0,214.7 L462.6,221.3 L463.1,223.7 L463.6,226.4 L464.1,228.1 L464.6,231.5 L465.2,221.9 L465.9,211.8 L466.4,209.7 L466.9,206.6 L467.4,204.5 L467.9,203.0 L468.4,195.0 L468.9,186.8 L469.4,178.1 L469.9,168.7 L470.5,169.9 L471.2,171.4 L471.7,170.6 L472.2,173.2 L472.7,172.7 L473.2,173.7 L473.8,173.7 L474.3,173.0 L474.8,176.8 L475.3,175.0 L475.8,177.0 L476.3,176.5 L477.0,178.3 L477.6,178.6 L478.2,180.8 L478.7,184.5 L479.2,188.3 L479.8,187.9 L480.3,190.1 L480.9,193.3 L481.5,194.1 L482.2,197.3 L482.8,198.2 L483.3,201.4 L483.9,203.7 L484.4,206.8 L484.9,208.3 L485.5,208.6 L486.0,212.1 L486.6,214.0 L487.1,218.8 L487.7,223.5 L488.2,226.3 L488.8,228.2 L489.3,232.9 L489.9,235.6 L490.5,239.2 L491.1,244.8 L491.6,252.2 L492.2,256.4 L492.8,261.8 L493.3,267.0 L493.8,271.0 L494.4,277.4 L494.9,284.3 L495.4,290.2 L495.9,295.6 L496.5,293.9 L497.0,297.3 L497.6,298.3 L498.1,299.4 L498.7,300.4 L499.2,299.2 L499.8,299.0 L500.4,295.7 L501.0,293.3 L501.5,286.2 L502.1,282.6 L502.7,281.1 L503.2,281.3 L503.8,281.6 L504.4,279.0 L505.0,279.2 L505.5,281.9 L506.1,283.6 L506.6,283.9 L507.2,287.9 L507.7,288.9 L508.3,291.7 L508.9,287.4 L509.4,287.0 L510.0,282.5 L510.5,282.0 L511.1,277.1 L511.6,277.3 L512.2,273.9 L512.8,270.9 L513.3,270.5 L513.9,270.1 L514.4,267.6 L515.0,266.4 L515.5,266.0 L516.1,264.5 L516.7,263.2 L517.2,266.9 L517.8,270.4 L518.4,272.8 L518.9,269.3 L519.4,263.4 L520.0,262.0 L520.5,256.7 L521.0,251.5 L521.5,247.6 L522.1,244.6 L522.6,240.5 L523.2,236.3 L523.8,234.6 L524.4,233.9 L524.9,230.7 L525.5,230.1 L526.0,231.3 L526.6,231.0 L527.1,230.7 L527.7,230.6 L528.2,235.7 L528.8,242.6 L529.3,246.1 L529.8,240.0 L530.3,234.9 L530.8,229.9 L531.3,226.7 L531.8,224.0 L532.3,218.6 L532.9,216.3 L533.4,212.4 L533.9,207.1 L534.4,205.7 L534.9,206.4 L535.4,204.1 L535.9,200.7 L536.4,196.3 L536.9,195.4 L537.4,193.9 L537.9,193.1 L538.4,194.1 L538.9,193.9 L539.4,193.7 L539.9,192.7 L540.5,192.4 L541.0,193.7 L541.5,194.3 L542.0,198.6 L542.5,196.8 L543.0,196.3 L543.5,198.4 L544.1,198.3 L544.6,197.2 L545.1,199.9 L545.6,199.5 L546.1,198.6 L546.6,200.5 L547.1,201.7 L547.6,201.6 L548.2,203.1 L548.7,204.1 L549.2,203.0 L549.7,201.7 L550.2,201.2 L550.7,203.9 L551.4,215.2 L551.9,217.9 L552.4,220.8 L552.9,223.7 L553.5,224.2 L554.0,226.9 L554.5,226.5 L555.0,230.3 L555.5,231.0 L556.1,231.1 L556.7,231.1 L557.2,230.7 L557.7,241.6 L558.3,253.1 L558.8,261.6 L559.4,266.9 L560.0,270.4 L560.5,275.6 L561.1,279.1 L561.6,281.1 L562.1,281.7 L562.6,283.1 L563.1,283.1 L563.7,283.0 L564.2,284.5 L564.7,287.1 L565.2,289.2 L565.7,288.4 L566.2,286.2 L566.8,283.5 L567.3,280.3 L567.8,275.2 L568.4,273.6 L568.9,269.8 L569.5,269.5 L570.0,267.4 L570.6,265.0 L571.2,259.2 L571.7,263.0 L572.2,265.4 L572.8,265.1 L573.3,268.5 L573.8,269.7 L574.3,270.8 L574.9,271.3 L575.5,271.8 L576.0,273.5 L576.6,278.7 L577.1,275.7 L577.7,273.8 L578.2,271.5 L578.8,269.9 L579.3,268.6 L579.8,268.2 L580.3,270.0 L580.9,269.4 L581.4,270.4 L581.9,268.5 L582.5,270.2 L583.0,269.7 L583.5,270.3 L584.0,265.0 L584.5,259.3 L585.0,256.6 L585.5,250.8 L586.0,245.8 L586.5,240.0 L587.1,236.0 L587.6,230.7 L588.1,231.9 L588.6,232.7 L589.2,232.1 L589.7,231.5 L590.2,233.6 L590.7,235.3 L591.2,235.1 L591.7,232.8 L592.2,233.7 L592.8,233.5 L593.3,233.1 L593.8,232.9 L594.3,238.4 L594.8,244.9 L595.3,242.2 L595.8,237.3 L596.4,232.2 L596.9,229.5 L597.4,229.3 L597.9,226.4 L598.5,226.1 L599.0,226.9 L599.5,225.7 L600.0,225.1 L600.5,223.8 L601.0,225.9 L601.5,227.7 L602.1,226.3 L602.6,225.3 L603.1,224.6 L603.6,227.6 L604.1,228.4 L604.7,228.4 L605.2,231.3 L605.7,232.5 L606.2,233.4 L606.7,231.4 L607.2,232.9 L607.8,234.6 L608.3,233.6 L608.8,236.0 L609.3,237.8 L609.8,238.4 L610.4,237.1 L610.9,237.0 L611.4,239.2 L611.9,241.1 L612.4,242.8 L613.0,244.2 L613.5,244.0 L614.0,244.5 L614.5,243.8 L615.0,247.3 L615.6,251.0 L616.1,250.0 L616.6,250.5 L617.1,252.7 L617.6,254.0 L618.2,253.3 L618.7,254.6 L619.2,255.5 L619.7,260.0 L620.2,259.4 L620.8,261.7 L621.3,264.5 L621.8,266.2 L622.3,268.5 L622.8,271.2 L623.3,270.7 L623.8,273.2 L624.3,280.0 L624.8,287.5 L625.4,298.1 L625.9,301.8 L626.4,303.6 L626.9,302.7 L627.4,305.6 L628.0,307.0 L628.5,306.0 L629.0,308.8 L629.5,308.0 L630.0,309.5 L630.5,306.8 L631.0,303.6 L631.6,301.5 L632.1,299.7 L632.6,298.7 L633.2,296.5 L633.7,297.0 L634.2,293.0 L634.7,291.0 L635.2,289.3 L635.7,288.0 L636.2,286.2 L636.8,285.3 L637.3,286.4 L637.8,285.2 L638.3,283.9 L638.8,283.1 L639.3,282.7 L639.9,281.3 L640.4,280.1 L640.9,277.4 L641.5,275.9 L642.0,274.0 L642.5,273.3 L643.0,270.6 L643.5,268.8 L644.0,267.0 L644.5,265.0 L645.1,262.9 L645.6,260.6 L646.1,260.4 L646.6,257.1 L647.1,252.6 L647.6,250.0 L648.1,245.5 L648.7,241.7 L649.2,239.4 L649.7,234.4 L650.2,228.7 L650.7,228.3 L651.2,226.8 L651.8,221.0 L652.3,217.6 L652.8,215.8 L653.3,211.3 L653.8,209.5 L654.3,207.0 L654.9,205.7 L655.4,201.9 L655.9,202.2 L656.4,197.8 L656.9,194.1 L657.5,189.4 L658.0,183.1 L658.5,180.4 L659.0,175.5 L659.5,172.5 L660.0,167.8 L660.5,164.1 L661.1,160.2 L661.6,157.2 L662.1,153.5 L662.6,150.6 L663.2,150.0 L663.7,150.8 L664.3,149.3 L664.8,146.8 L665.3,148.5 L665.8,150.0 L666.3,153.0 L666.8,154.1 L667.3,155.9 L667.8,159.6 L668.3,158.0 L668.8,156.9 L669.3,155.5 L669.9,154.9 L670.4,157.1 L670.9,157.0 L671.5,158.2 L672.0,154.4 L672.5,154.0 L673.0,156.6 L673.5,157.0 L674.0,157.0 L674.5,157.0 L675.1,156.1 L675.6,155.7 L676.1,155.6 L676.6,156.5 L677.1,156.6 L677.6,157.7 L678.1,160.0 L678.7,158.5 L679.2,159.0 L679.7,161.2 L680.2,161.7 L680.7,162.6 L681.2,166.8 L681.8,167.7 L682.3,168.2 L682.8,171.2 L683.3,175.1 L683.9,173.6 L684.4,174.7 L684.9,177.2 L685.4,181.1 L685.9,188.5 L686.5,192.2 L687.0,195.5 L687.5,200.5 L688.0,206.8 L688.5,214.1 L689.0,222.3 L689.5,232.6 L690.0,235.9 L690.6,247.4 L691.3,259.0 L691.8,257.1 L692.3,256.6 L692.8,253.7 L693.3,251.2 L693.8,248.9 L694.3,248.9 L694.8,252.3 L695.3,251.0 L695.8,252.4 L696.3,253.1 L696.8,251.4 L697.4,248.5 L697.9,248.6 L698.4,248.4 L698.9,247.6 L699.5,247.2 L700.0,245.2 L700.5,243.3 L701.0,243.1 L701.5,242.8 L702.0,240.3 L702.5,238.1 L703.0,239.2 L703.5,242.5 L704.0,244.3 L704.5,243.5 L705.0,244.9 L705.5,244.9 L706.0,244.8 L706.5,241.9 L707.0,240.7 L707.5,241.4 L708.0,247.2 L708.5,250.8 L709.0,251.7 L709.5,256.4 L710.0,259.8 L710.5,257.9 L711.0,255.2 L711.5,253.2 L712.0,251.7 L712.5,251.9 L713.0,252.4 L713.5,253.0 L714.0,253.4 L714.5,253.3 L715.0,254.5 L715.5,253.2 L716.0,250.3 L716.5,248.6 L717.0,244.2 L717.5,240.4 L718.0,235.9 L718.5,234.9 L719.0,230.6 L719.5,231.0 L720.0,227.2 L720.5,227.9 L721.0,227.0 L721.5,227.9 L722.0,228.1 L722.5,230.8 L723.0,225.5 L723.5,218.9 L724.0,212.5 L724.5,209.0 L725.0,204.1 L725.5,202.2 L726.0,202.6 L726.5,201.1 L727.0,200.1 L727.5,198.2 L728.0,198.7 L728.5,199.5 L729.0,199.0 L729.5,201.7 L730.0,202.9 L730.5,200.0 L731.1,200.6 L731.6,201.5 L732.2,200.3 L732.7,200.6 L733.3,198.5 L733.8,197.6 L734.3,193.6 L734.8,191.0 L735.3,187.5 L735.8,185.6 L736.3,184.6 L736.8,186.0 L737.4,187.5 L737.9,187.3 L738.4,186.3 L738.9,187.9 L739.5,188.2 L740.0,190.7 L740.5,192.2 L741.1,191.9 L741.6,189.9 L742.2,190.1 L742.7,191.4 L743.3,191.2 L743.8,192.8 L744.3,196.4 L744.8,199.7 L745.3,202.2 L745.8,203.8 L746.3,206.3 L746.8,208.5 L747.3,211.8 L747.8,214.2 L748.3,215.3 L748.8,216.0 L749.3,220.6 L749.8,225.3 L750.3,230.4 L750.8,234.6 L751.3,236.4 L751.8,241.2 L752.3,244.2 L752.8,246.2 L753.3,250.0 L753.8,253.0 L754.4,266.4 L755.0,278.2 L755.5,281.5 L756.0,284.4 L756.5,286.1 L757.0,286.3 L757.5,289.9 L758.0,291.8 L758.6,292.6 L759.1,293.8 L759.7,294.1 L760.2,294.6 L760.8,296.7 L761.3,297.2 L761.8,293.1 L762.3,292.1 L762.8,286.0 L763.3,280.4 L763.8,273.5 L764.3,278.1 L764.8,282.7 L765.3,285.0 L765.8,288.6 L766.3,289.9 L766.8,314.7" stroke="#38b29c" stroke-width="0.95"/>
</g>
</svg>
<svg width="1024" height="580" viewBox="0 0 1024 580">
<!-- question -->
<circle cx="487.7" cy="19.5" r="6.6" fill="#bec2cc"/>
<text x="487.9" y="23.8" font-family="Liberation Sans" font-weight="bold" font-size="10.5" fill="#0f0e15" text-anchor="middle">?</text>
<!-- list -->
<g fill="#bec2cc">
<rect x="505.9" y="14.3" width="12.3" height="3.3" rx="0.5"/>
<rect x="505.9" y="18.4" width="12.3" height="3.3" rx="0.5"/>
<rect x="505.9" y="22.4" width="12.3" height="3.3" rx="0.5"/>
</g>
<g stroke="#0f0e15" stroke-width="0.8"><line x1="508.4" y1="14" x2="508.4" y2="26"/></g>
<!-- plus -->
<g stroke="#fff" stroke-width="2"><line x1="535.3" y1="20.6" x2="546.2" y2="20.6"/><line x1="540.75" y1="15.3" x2="540.75" y2="25.9"/></g>
<!-- cube -->
<g>
<path d="M610.5,14.8 L615.2,17.5 L615.2,23 L610.5,25.7 L605.9,23 L605.9,17.5 Z" fill="#f0f1f4"/>
<path d="M605.9,17.5 L610.5,20.2 L615.2,17.5 M610.5,20.2 L610.5,25.7" stroke="#9a9cab" stroke-width="0.7" fill="none"/>
</g>
<!-- refresh -->
<g fill="none" stroke="#bec2cc" stroke-width="1.2">
<path d="M726.3,16.0 A4.5,4.5 0 0 1 732.6,20.9"/>
<path d="M729.8,24.6 A4.5,4.5 0 0 1 723.4,19.6"/>
</g>
<path d="M723.7,15.0 L727.6,15.6 L724.4,18.3 Z" fill="#bec2cc"/>
<path d="M732.3,25.6 L728.4,25.0 L731.6,22.3 Z" fill="#bec2cc"/>
<!-- carets -->
<path d="M818.2,18.4 L825.8,18.4 L822,22.2 Z" fill="#bec2cc"/>
<path d="M941.2,18.6 L948.4,18.6 L944.8,22.2 Z" fill="#bec2cc"/>
<path d="M141,89.2 L148.4,89.2 L144.7,93.3 Z" fill="#d4d7dd"/>
<!-- clock -->
<circle cx="850.8" cy="20.4" r="5.3" fill="none" stroke="#bec2cc" stroke-width="1.2"/>
<path d="M850.5,17.4 L850.5,20.8 L853.4,20.8" fill="none" stroke="#bec2cc" stroke-width="1.2"/>
<!-- fullscreen -->
<rect x="967" y="18" width="7.8" height="5" fill="#bec2cc"/>
<g fill="none" stroke="#bec2cc" stroke-width="1.1">
<path d="M965.3,19 L965.3,16.4 L968,16.4"/><path d="M973.9,16.4 L976.6,16.4 L976.6,19"/>
<path d="M965.3,21.8 L965.3,24.4 L968,24.4"/><path d="M973.9,24.4 L976.6,24.4 L976.6,21.8"/>
</g>
<!-- gear -->
<g transform="translate(921.3,84.5)" fill="#fff">
<circle r="3.9"/>
<g id="teeth"><rect x="-1.2" y="-5.3" width="2.4" height="10.6"/><rect x="-5.3" y="-1.2" width="10.6" height="2.4"/><rect x="-1.2" y="-5.3" width="2.4" height="10.6" transform="rotate(45)"/><rect x="-1.2" y="-5.3" width="2.4" height="10.6" transform="rotate(-45)"/></g>
<circle r="2.1" fill="#22adf6"/>
</g>
<!-- pencil -->
<path d="M927.9,126.8 L928.6,124.3 L933.9,119.0 L935.7,120.8 L930.4,126.1 Z" fill="#9a9dab"/>
<path d="M934.5,118.4 L935.4,117.5 L937.2,119.3 L936.3,120.2 Z" fill="#9a9dab"/>
<!-- download -->
<g fill="none" stroke="#9a9dab" stroke-width="1.1">
<path d="M947.4,122.6 L947.4,126.5 L955.7,126.5 L955.7,122.6"/>
<path d="M950.3,117.8 L952.8,117.8 L952.8,121.2 L954.6,121.2 L951.55,124.4 L948.5,121.2 L950.3,121.2 Z"/>
</g>
<!-- trash -->
<g fill="#9a9dab">
<rect x="964.9" y="119.2" width="8.8" height="1.5"/>
<rect x="967.8" y="117.8" width="3" height="1.6"/>
<path d="M965.6,121.3 L973,121.3 L972.4,127 L966.2,127 Z"/>
</g>
<!-- resize -->
<g stroke="#434453" stroke-width="1.3" stroke-linecap="round"><line x1="968.2" y1="494.4" x2="978.4" y2="484.8"/><line x1="972.6" y1="494.6" x2="978.4" y2="489.6"/></g>
</svg>
<div class="t ax" style="left:67.60px;top:458.60px;font-size:10.50px;">73</div>
<div class="t ax" style="right:70.00px;top:458.60px;font-size:10.50px;">73</div>
<div class="t ax" style="left:67.60px;top:434.97px;font-size:10.50px;">73.5</div>
<div class="t ax" style="right:70.00px;top:434.97px;font-size:10.50px;">73.5</div>
<div class="t ax" style="left:67.60px;top:411.34px;font-size:10.50px;">74</div>
<div class="t ax" style="right:70.00px;top:411.34px;font-size:10.50px;">74</div>
<div class="t ax" style="left:67.60px;top:387.71px;font-size:10.50px;">74.5</div>
<div class="t ax" style="right:70.00px;top:387.71px;font-size:10.50px;">74.5</div>
<div class="t ax" style="left:67.60px;top:364.08px;font-size:10.50px;">75</div>
<div class="t ax" style="right:70.00px;top:364.08px;font-size:10.50px;">75</div>
<div class="t ax" style="left:67.60px;top:340.45px;font-size:10.50px;">75.5</div>
<div class="t ax" style="right:70.00px;top:340.45px;font-size:10.50px;">75.5</div>
<div class="t ax" style="left:67.60px;top:316.82px;font-size:10.50px;">76</div>
<div class="t ax" style="right:70.00px;top:316.82px;font-size:10.50px;">76</div>
<div class="t ax" style="left:67.60px;top:293.19px;font-size:10.50px;">76.5</div>
<div class="t ax" style="right:70.00px;top:293.19px;font-size:10.50px;">76.5</div>
<div class="t ax" style="left:67.60px;top:269.56px;font-size:10.50px;">77</div>
<div class="t ax" style="right:70.00px;top:269.56px;font-size:10.50px;">77</div>
<div class="t ax" style="left:67.60px;top:245.93px;font-size:10.50px;">77.5</div>
<div class="t ax" style="right:70.00px;top:245.93px;font-size:10.50px;">77.5</div>
<div class="t ax" style="left:67.60px;top:222.30px;font-size:10.50px;">78</div>
<div class="t ax" style="right:70.00px;top:222.30px;font-size:10.50px;">78</div>
<div class="t ax" style="left:67.60px;top:198.67px;font-size:10.50px;">78.5</div>
<div class="t ax" style="right:70.00px;top:198.67px;font-size:10.50px;">78.5</div>
<div class="t ax" style="left:67.60px;top:175.04px;font-size:10.50px;">79</div>
<div class="t ax" style="right:70.00px;top:175.04px;font-size:10.50px;">79</div>
<div class="t ax" style="left:67.60px;top:151.41px;font-size:10.50px;">79.5</div>
<div class="t ax" style="right:70.00px;top:151.41px;font-size:10.50px;">79.5</div>
<div class="t ax" style="left:103.90px;width:100px;text-align:center;top:481.60px;font-size:10.40px;">12 May</div>
<div class="t ax" style="left:168.80px;width:100px;text-align:center;top:481.60px;font-size:10.40px;">13 May</div>
<div class="t ax" style="left:233.70px;width:100px;text-align:center;top:481.60px;font-size:10.40px;">14 May</div>
<div class="t ax" style="left:298.60px;width:100px;text-align:center;top:481.60px;font-size:10.40px;">15 May</div>
<div class="t ax" style="left:363.50px;width:100px;text-align:center;top:481.60px;font-size:10.40px;">16 May</div>
<div class="t ax" style="left:428.40px;width:100px;text-align:center;top:481.60px;font-size:10.40px;">17 May</div>
<div class="t ax" style="left:493.30px;width:100px;text-align:center;top:481.60px;font-size:10.40px;">18 May</div>
<div class="t ax" style="left:558.20px;width:100px;text-align:center;top:481.60px;font-size:10.40px;">19 May</div>
<div class="t ax" style="left:623.10px;width:100px;text-align:center;top:481.60px;font-size:10.40px;">20 May</div>
<div class="t ax" style="left:688.00px;width:100px;text-align:center;top:481.60px;font-size:10.40px;">21 May</div>
<div class="t ax" style="left:752.90px;width:100px;text-align:center;top:481.60px;font-size:10.40px;">22 May</div>
<div class="t ax" style="left:817.80px;width:100px;text-align:center;top:481.60px;font-size:10.40px;">23 May</div>
<div class="t " style="left:47.00px;top:13.82px;font-size:14.15px;color:#e4e6ea">HQ Temperature Predictions</div>
<div class="t b" style="left:549.30px;top:16.03px;font-size:9.30px;color:#ffffff">Add Cell</div>
<div class="t b" style="left:618.30px;top:15.24px;font-size:9.40px;color:#eceef1">Template Variables</div>
<div class="t b" style="left:736.80px;top:16.25px;font-size:9.15px;color:#c9ccd4">Every 15 seconds</div>
<div class="t b" style="left:859.50px;top:16.09px;font-size:9.35px;color:#c9ccd4">Past 15 minutes</div>
<div class="t b" style="left:929.60px;top:79.24px;font-size:9.40px;color:#ffffff">Manage</div>
<div class="t b" style="left:49.20px;top:118.95px;font-size:9.15px;color:#c6cad3">HQ Zone :zone: Temperature Predictions</div>
<div class="t " style="left:49.70px;top:86.87px;font-size:9.60px;color:#e0e2e8">3</div>
<div class="t mono" style="left:51.20px;top:72.52px;font-size:8.60px;color:#a9abf5">:zone:</div>
<div class="ylabel">HQ Zone 5 Temperature</div>
</body></html>
